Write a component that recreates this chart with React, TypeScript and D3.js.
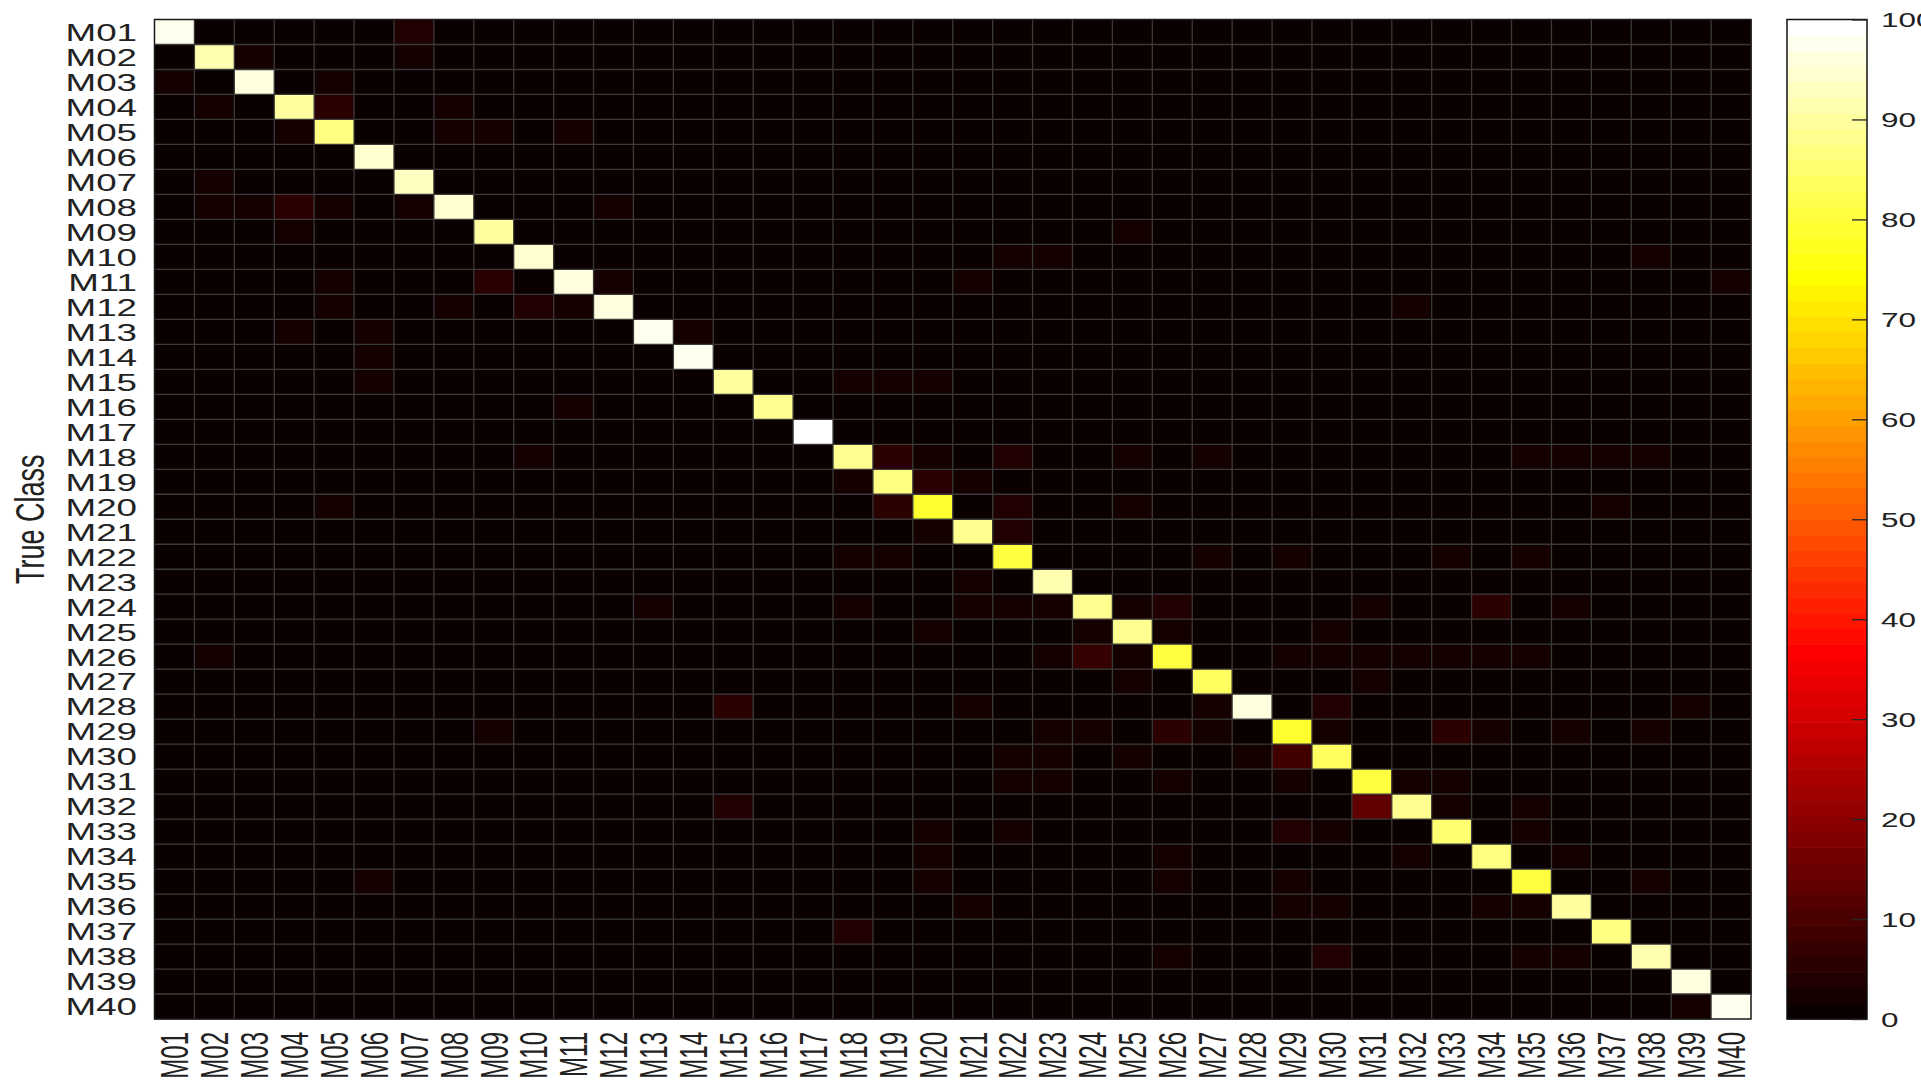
import React, { useRef, useEffect } from 'react';
import * as d3 from 'd3';

// class names, M01..M40
const classes: string[] = [
    'M01', 'M02', 'M03', 'M04', 'M05', 'M06', 'M07', 'M08', 'M09', 'M10',
    'M11', 'M12', 'M13', 'M14', 'M15', 'M16', 'M17', 'M18', 'M19', 'M20',
    'M21', 'M22', 'M23', 'M24', 'M25', 'M26', 'M27', 'M28', 'M29', 'M30',
    'M31', 'M32', 'M33', 'M34', 'M35', 'M36', 'M37', 'M38', 'M39', 'M40',
];

// correct rate per class (%), read from the diagonal
const diagonal: number[] = [
    97, 91, 96, 90, 87, 95, 93, 95, 90, 95,
    96, 96, 97, 97, 90, 89, 100, 88, 86, 79,
    89, 81, 91, 89, 88, 81, 83, 96, 79, 84,
    81, 88, 85, 87, 81, 90, 86, 91, 96, 97,
];

// confusions: [true class no., predicted class no., %]
const confusions: [number, number, number][] = [
    [1, 7, 4],
    [2, 3, 2], [2, 7, 2],
    [3, 1, 3], [3, 5, 2],
    [4, 2, 2], [4, 5, 5], [4, 8, 2],
    [5, 4, 2], [5, 8, 2], [5, 9, 2], [5, 11, 2],
    [7, 2, 3],
    [8, 2, 2], [8, 3, 2], [8, 4, 5], [8, 5, 2], [8, 7, 2], [8, 12, 2],
    [9, 4, 2], [9, 25, 2],
    [10, 22, 2], [10, 23, 2], [10, 38, 2],
    [11, 5, 2], [11, 9, 5], [11, 12, 2], [11, 21, 2], [11, 40, 2],
    [12, 5, 2], [12, 8, 2], [12, 10, 4], [12, 11, 2], [12, 32, 2],
    [13, 4, 2], [13, 6, 2], [13, 14, 2],
    [14, 6, 2],
    [15, 6, 2], [15, 18, 2], [15, 19, 3], [15, 20, 2],
    [16, 11, 2],
    [18, 10, 2], [18, 19, 6], [18, 20, 3], [18, 22, 4], [18, 25, 2], [18, 27, 2],
    [18, 35, 2], [18, 36, 3], [18, 37, 2], [18, 38, 2],
    [19, 18, 2], [19, 20, 6], [19, 21, 3],
    [20, 5, 2], [20, 19, 5], [20, 22, 4], [20, 25, 2], [20, 37, 2],
    [21, 20, 2], [21, 22, 4],
    [22, 18, 2], [22, 19, 3], [22, 27, 3], [22, 29, 2], [22, 33, 2], [22, 35, 2],
    [23, 21, 2],
    [24, 13, 2], [24, 18, 2], [24, 21, 2], [24, 22, 2], [24, 23, 2], [24, 25, 3],
    [24, 26, 4], [24, 31, 2], [24, 34, 6], [24, 36, 2],
    [25, 20, 2], [25, 24, 2], [25, 26, 2], [25, 30, 2],
    [26, 2, 2], [26, 23, 2], [26, 24, 7], [26, 25, 2], [26, 29, 2], [26, 30, 2],
    [26, 31, 2], [26, 32, 3], [26, 33, 2], [26, 34, 2], [26, 35, 2],
    [27, 25, 2], [27, 31, 2],
    [28, 15, 5], [28, 21, 2], [28, 27, 2], [28, 30, 4], [28, 39, 2],
    [29, 9, 3], [29, 23, 2], [29, 24, 2], [29, 26, 6], [29, 27, 2], [29, 30, 2],
    [29, 33, 5], [29, 34, 2], [29, 36, 2], [29, 38, 2],
    [30, 22, 2], [30, 23, 2], [30, 25, 2], [30, 28, 2], [30, 29, 8],
    [31, 22, 2], [31, 23, 2], [31, 26, 2], [31, 29, 2], [31, 32, 3], [31, 33, 3],
    [32, 15, 4], [32, 31, 14], [32, 33, 2], [32, 35, 2],
    [33, 20, 3], [33, 22, 2], [33, 29, 4], [33, 30, 2], [33, 35, 3],
    [34, 20, 2], [34, 26, 2], [34, 32, 2], [34, 36, 2],
    [35, 6, 2], [35, 20, 2], [35, 26, 2], [35, 29, 3], [35, 38, 3],
    [36, 21, 2], [36, 29, 2], [36, 30, 2], [36, 34, 3], [36, 35, 3],
    [37, 18, 4],
    [38, 26, 2], [38, 30, 4], [38, 35, 2], [38, 36, 2],
    [40, 39, 2],
];

const colorTicks: number[] = [0, 10, 20, 30, 40, 50, 60, 70, 80, 90, 100];

// matlab "hot", 64 entries
const hot64 = d3.range(64).map(i => {
    const r = i < 24 ? (i + 1) / 24 : 1;
    const g = i < 24 ? 0 : i < 48 ? (i - 23) / 24 : 1;
    const b = i < 48 ? 0 : (i - 47) / 16;
    return d3.rgb(r * 255, g * 255, b * 255).formatHex();
});

const FONT = '"Liberation Sans", Arial, Helvetica, sans-serif';
const TEXT = '#222222';

const App: React.FC = () => {
    const svgRef = useRef<SVGSVGElement | null>(null);

    useEffect(() => {
        if (!svgRef.current) return;
        const svg = d3.select(svgRef.current);
        svg.selectAll('*').remove();

        const left = 154.5, right = 1751, top = 19.5, bottom = 1019;

        const x = d3.scaleBand<string>().domain(classes).range([left, right]);
        const y = d3.scaleBand<string>().domain(classes).range([top, bottom]);
        const color = d3.scaleQuantize<string>().domain([0, 100]).range(hot64);

        // full matrix, zero by default
        const cells: { t: string; p: string; v: number }[] = [];
        classes.forEach((t, i) => classes.forEach((p, j) => {
            cells.push({ t, p, v: i === j ? diagonal[i] : 0 });
        }));
        confusions.forEach(([t, p, v]) => {
            cells[(t - 1) * classes.length + (p - 1)].v = v;
        });

        svg.append('g')
            .selectAll('rect')
            .data(cells)
            .enter()
            .append('rect')
            .attr('x', d => x(d.p) as number)
            .attr('y', d => y(d.t) as number)
            .attr('width', x.bandwidth() + 0.5)
            .attr('height', y.bandwidth() + 0.5)
            .attr('fill', d => color(Math.min(d.v, 99.99)));

        // grid lines between cells
        const grid = svg.append('g').attr('stroke', '#3a3a3a').attr('stroke-width', 1.3);
        classes.slice(1).forEach(c => {
            grid.append('line')
                .attr('x1', x(c) as number).attr('x2', x(c) as number)
                .attr('y1', top).attr('y2', bottom);
            grid.append('line')
                .attr('x1', left).attr('x2', right)
                .attr('y1', y(c) as number).attr('y2', y(c) as number);
        });

        svg.append('rect')
            .attr('x', left).attr('y', top)
            .attr('width', right - left).attr('height', bottom - top)
            .attr('fill', 'none').attr('stroke', '#1a1a1a').attr('stroke-width', 1.5);

        // y tick labels
        svg.append('g')
            .selectAll('text')
            .data(classes)
            .enter()
            .append('text')
            .attr('transform', d => `translate(137, ${(y(d) as number) + y.bandwidth() / 2}) scale(1.5, 1)`)
            .attr('dy', '0.36em')
            .attr('text-anchor', 'end')
            .attr('font-family', FONT)
            .attr('font-size', 24.5)
            .attr('fill', TEXT)
            .text(d => d);

        // x tick labels, rotated
        svg.append('g')
            .selectAll('text')
            .data(classes)
            .enter()
            .append('text')
            .attr('transform', d => `translate(${(x(d) as number) + x.bandwidth() / 2}, 1032) scale(1.6, 1) rotate(-90)`)
            .attr('dy', '0.36em')
            .attr('text-anchor', 'end')
            .attr('font-family', FONT)
            .attr('font-size', 24)
            .attr('fill', TEXT)
            .text(d => d);

        svg.append('text')
            .attr('transform', `translate(29, ${(top + bottom) / 2}) scale(1.5, 1) rotate(-90)`)
            .attr('dy', '0.36em')
            .attr('text-anchor', 'middle')
            .attr('font-family', FONT)
            .attr('font-size', 27)
            .attr('fill', TEXT)
            .text('True Class');

        // colorbar
        const cbLeft = 1787, cbRight = 1867;
        const cy = d3.scaleLinear().domain([0, 100]).range([bottom, top]);
        const step = 100 / hot64.length;

        svg.append('g')
            .selectAll('rect')
            .data(hot64)
            .enter()
            .append('rect')
            .attr('x', cbLeft)
            .attr('y', (d, i) => cy((i + 1) * step))
            .attr('width', cbRight - cbLeft)
            .attr('height', cy(0) - cy(step) + 0.6)
            .attr('fill', d => d);

        svg.append('rect')
            .attr('x', cbLeft).attr('y', top)
            .attr('width', cbRight - cbLeft).attr('height', bottom - top)
            .attr('fill', 'none').attr('stroke', '#111').attr('stroke-width', 1.5);

        const cbAxis = d3.axisLeft(cy).tickValues(colorTicks).tickSize(15).tickFormat(d => `${d}`);
        const ax = svg.append('g')
            .attr('transform', `translate(${cbRight}, 0)`)
            .call(cbAxis);
        ax.select('.domain').remove();
        ax.selectAll('.tick line').attr('stroke', '#262626').attr('stroke-width', 1.3);
        ax.selectAll('.tick text').remove();

        svg.append('g')
            .selectAll('text')
            .data(colorTicks)
            .enter()
            .append('text')
            .attr('transform', d => `translate(1881, ${cy(d)}) scale(1.5, 1)`)
            .attr('dy', '0.36em')
            .attr('font-family', FONT)
            .attr('font-size', 21)
            .attr('fill', TEXT)
            .text(d => d);
    }, []);

    return (
        <div style={{ position: 'absolute', left: 0, top: 0, width: 1921, height: 1087, overflow: 'hidden', background: '#fff' }}>
            <svg ref={svgRef} width={1921} height={1087} style={{ display: 'block' }}></svg>
        </div>
    );
};

export default App;
